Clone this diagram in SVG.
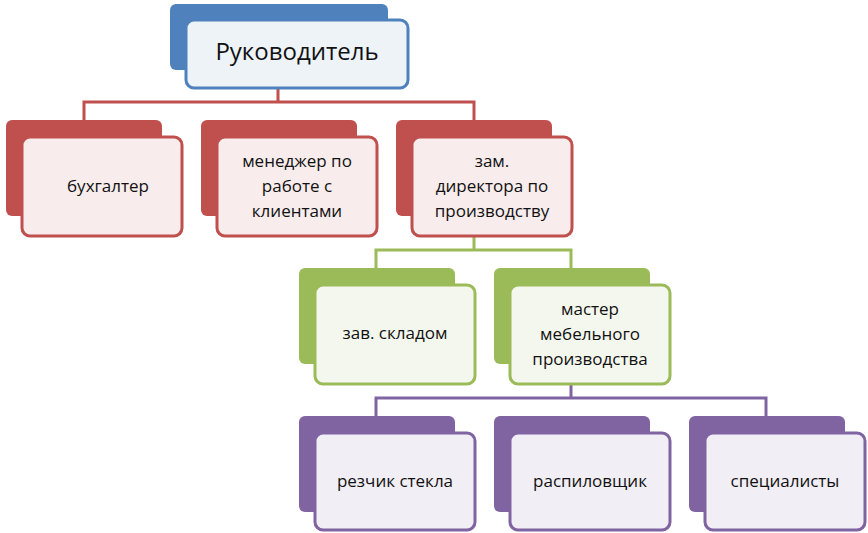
<svg xmlns="http://www.w3.org/2000/svg" width="868" height="533" viewBox="0 0 868 533">
<style>
text{font-family:"Open Sans","Liberation Sans",sans-serif;font-size:17px;fill:#111;text-anchor:middle}
.b{fill:#4F81BD}.bf{fill:#EEF3F8;stroke:#4F81BD;stroke-width:3}
.r{fill:#C0504D}.rf{fill:#F8ECEC;stroke:#C0504D;stroke-width:3}
.g{fill:#9BBB59}.gf{fill:#F4F7EE;stroke:#9BBB59;stroke-width:3}
.p{fill:#8064A2}.pf{fill:#F1EEF5;stroke:#8064A2;stroke-width:3}
.c{fill:none;stroke-width:3}
</style>
<rect width="868" height="533" fill="#fff"/>
<g id="connectors">
<path class="c" stroke="#C0504D" d="M278 88V102M84 120V102H474V120"/>
<path class="c" stroke="#9BBB59" d="M474 236V250M376 268V250H571V268"/>
<path class="c" stroke="#8064A2" d="M571 384V398M376 416V398H766V416"/>
</g>
<g id="n0"><rect class="b" x="170" y="4" width="218" height="66" rx="6"/><rect class="bf" x="186" y="20" width="222" height="68" rx="8"/><text x="297" y="60" style="font-size:24px">Руководитель</text></g>
<g id="n1"><rect class="r" x="6" y="120" width="156" height="96" rx="6"/><rect class="rf" x="22" y="137" width="160" height="99" rx="8"/><text x="108" y="192">бухгалтер</text></g>
<g id="n2"><rect class="r" x="201" y="120" width="156" height="96" rx="6"/><rect class="rf" x="217" y="137" width="160" height="99" rx="8"/><text x="297" y="167">менеджер по</text><text x="297" y="192">работе с</text><text x="297" y="217">клиентами</text></g>
<g id="n3"><rect class="r" x="396" y="120" width="156" height="96" rx="6"/><rect class="rf" x="412" y="137" width="160" height="99" rx="8"/><text x="492" y="167">зам.</text><text x="492" y="192">директора по</text><text x="492" y="217">производству</text></g>
<g id="n4"><rect class="g" x="299" y="268" width="156" height="96" rx="6"/><rect class="gf" x="315" y="285" width="160" height="99" rx="8"/><text x="395" y="339">зав. складом</text></g>
<g id="n5"><rect class="g" x="494" y="268" width="156" height="96" rx="6"/><rect class="gf" x="510" y="285" width="160" height="99" rx="8"/><text x="590" y="315">мастер</text><text x="590" y="340">мебельного</text><text x="590" y="365">производства</text></g>
<g id="n6"><rect class="p" x="299" y="416" width="156" height="96" rx="6"/><rect class="pf" x="315" y="433" width="160" height="97" rx="8"/><text x="395" y="487">резчик стекла</text></g>
<g id="n7"><rect class="p" x="494" y="416" width="156" height="96" rx="6"/><rect class="pf" x="510" y="433" width="160" height="97" rx="8"/><text x="590" y="487">распиловщик</text></g>
<g id="n8"><rect class="p" x="689" y="416" width="156" height="96" rx="6"/><rect class="pf" x="705" y="433" width="160" height="97" rx="8"/><text x="785" y="487">специалисты</text></g>
</svg>
